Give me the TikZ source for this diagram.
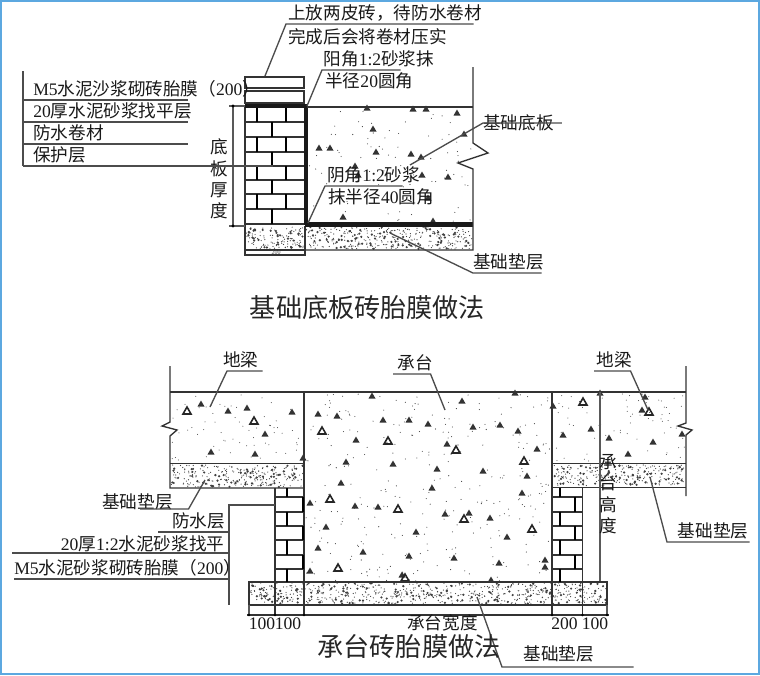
\documentclass[tikz,border=0pt]{standalone}
\usepackage{fontspec}
\setmainfont{Liberation Serif}
\newfontfamily\cjk{Noto Sans CJK SC}
\newcommand{\zh}[1]{{\cjk #1}}
\newcommand{\speck}[6]{%
  \foreach \i in {1,...,#5}{%
    \pgfmathsetmacro\px{#1+rnd*#3}%
    \pgfmathsetmacro\py{#2+rnd*#4}%
    \fill[black!75] (\px,\py) circle (#6);}}
\definecolor{framec}{RGB}{92,168,224}
\tikzset{
  wall/.style={line width=1,draw=black!80},
  fine/.style={line width=0.9,draw=black!65},
  heavy/.style={line width=3.2,draw=black!90},
  leader/.style={line width=1,draw=black!70},
  txt/.style={inner sep=0pt,text=black!90,font=\fontsize{13.2}{16}\selectfont},
  lbl/.style={txt,anchor=south west,text width=#1*0.75pt,text height=11pt,text depth=3pt,align=left},
  stack/.style={txt,align=center},
  headline/.style={inner sep=0pt,text=black!85,font=\fontsize{19.6}{22}\selectfont},
}
\begin{document}
\begin{tikzpicture}[x=0.75pt,y=0.75pt,yscale=-1,xscale=1]
  \useasboundingbox (0,0) rectangle (760,675);
  \fill[white] (0,0) rectangle (760,675);
  \draw[line width=1.5,draw=framec] (0.75,0.75) rectangle (759.25,674.25);
  \pgfmathsetseed{4217}

  % upper detail: aggregate
  \speck{309}{109}{163}{113}{85}{0.55}
  \speck{246}{227}{226}{22}{380}{0.6}
  \speck{246}{227}{226}{22}{110}{1.2}
  \foreach \x/\y in {373/129,319/148,330/148,376/152,411/154,421/157,413/109,426/109,457/113,
      464/134,448/177,355/166,358/175,422/175,343/217,433/221,367/108,428/198}{
    \fill[black!80] (\x,\y) ++(-3.5,2.5) -- ++(7,0) -- ++(-3.5,-6) -- cycle;
  }

  % upper detail: brick wall
  \draw[wall] (245,77) rectangle (304,88);
  \draw[wall] (245,91) rectangle (304,103);
  \draw[wall] (245,106) -- (245,255) -- (305,255) -- (305,226);
  \draw[wall] (245,250) -- (305,250);
  \foreach \y in {122,137,152,166,180,194,209,224}{
    \draw[wall] (245,\y) -- (305,\y);
  }
  \foreach \ya/\yb in {106/122,137/152,166/180,194/209}{
    \draw[line width=1.3] (257,\ya) -- (257,\yb) (286,\ya) -- (286,\yb);
  }
  \foreach \ya/\yb in {122/137,152/166,180/194,209/224}{
    \draw[line width=1.3] (272,\ya) -- (272,\yb);
  }
  \draw[heavy] (245,106) -- (307,106);
  \draw[heavy] (306,106) -- (306,225);
  \draw[heavy] (305,224.5) -- (473,224.5);
  \draw[wall] (307,107) -- (473,107);
  \draw[wall] (473,67) -- (473,143) -- (488,153) -- (458,163) -- (473,169) -- (473,250) -- (305,250);
  \node[inner sep=0pt,font=\fontsize{4.5}{5}\selectfont,text=black!70] (tinyw) at (276,253) {200};

  % upper detail: height dimension
  \draw[fine] (233,106) -- (233,226) (229,106) -- (245,106) (229,226) -- (245,226);
  \fill (233,106) circle (1.6) (233,226) circle (1.6);
  \node[stack,font=\fontsize{13.2}{16}\selectfont] (thick) at (219,179) {\zh{底}\\\zh{板}\\\zh{厚}\\\zh{度}};

  % upper detail: labels on the left
  \draw[leader] (23,71) -- (23,166);
  \node[lbl=164] (layerA) at (23,100) {\hspace*{7.5pt}M5\zh{水泥沙浆砌砖胎膜（}200\zh{）}};
  \node[lbl=164] (layerB) at (23,122) {\hspace*{7.5pt}20\zh{厚水泥砂浆找平层}};
  \node[lbl=164] (layerC) at (23,144) {\hspace*{7.5pt}\zh{防水卷材}};
  \node[lbl=249] (layerD) at (23,166) {\hspace*{7.5pt}\zh{保护层}};
  \foreach \n in {layerA,layerB,layerC,layerD}{
    \draw[leader] (\n.south west) -- (\n.south east);
  }

  % upper detail: labels on top and right
  \coordinate (ptPut) at (265,76);
  \node[lbl=187] (lblPut) at (286,24) {\hspace*{1.5pt}\zh{上放两皮砖，待防水卷材}};
  \node[txt,anchor=west] (lblPress) at (288,37) {\zh{完成后会将卷材压实}};
  \draw[leader] (lblPut.south east) -- (lblPut.south west) -- (ptPut);
  \coordinate (ptOuter) at (307,106);
  \node[lbl=78] (lblOuter) at (322,70) {\hspace*{1pt}\zh{阳角}1:2\zh{砂浆抹}};
  \node[txt,anchor=west] (lblOuterB) at (325,81) {\zh{半径}20\zh{圆角}};
  \draw[leader] (lblOuter.south east) -- (lblOuter.south west) -- (ptOuter);
  \coordinate (ptInner) at (308,223);
  \node[lbl=77] (lblInner) at (325,186) {\hspace*{1.5pt}\zh{阴角}1:2\zh{砂浆}};
  \node[txt,anchor=west] (lblInnerB) at (328,197) {\zh{抹半径}40\zh{圆角}};
  \draw[leader] (lblInner.south east) -- (lblInner.south west) -- (ptInner);
  \coordinate (ptSlab) at (410,165);
  \node[txt,anchor=west] (lblSlab) at (483,123) {\zh{基础底板}};
  \draw[leader] ([xshift=6]lblSlab.east) -- (lblSlab.west) -- (ptSlab);
  \coordinate (ptBaseA) at (390,233);
  \node[lbl=68] (lblBaseA) at (473,273) {\zh{基础垫层}};
  \draw[leader] (lblBaseA.south east) -- (lblBaseA.south west) -- (ptBaseA);
  \node[headline] (titleA) at (367.5,308) {\zh{基础底板砖胎膜做法}};

  % lower detail: aggregate
  \speck{171}{394}{132}{68}{65}{0.5}
  \speck{306}{394}{245}{187}{300}{0.55}
  \speck{554}{394}{131}{68}{70}{0.5}
  \speck{171}{465}{132}{22}{210}{0.6}
  \speck{171}{465}{132}{22}{60}{1.2}
  \speck{554}{465}{131}{21}{210}{0.6}
  \speck{554}{465}{131}{21}{60}{1.2}
  \speck{250}{583}{356}{21}{550}{0.6}
  \speck{250}{583}{356}{21}{150}{1.2}
  \foreach \x/\y in {201/404,228/411,247/408,292/412,265/434,211/452,255/454,303/458,
      372/396,318/414,337/416,356/440,383/420,409/420,428/424,462/401,473/427,447/444,
      346/462,393/464,437/469,483/471,341/483,432/488,310/503,355/506,378/507,445/514,
      469/513,490/518,326/527,416/532,318/548,363/552,409/556,454/558,310/571,402/575,
      491/580,500/425,518/431,537/449,527/476,522/493,507/537,499/563,545/560,545/567,
      515/393,553/406,563/435,591/429,609/438,628/454,645/397,642/410,653/442,682/434,600/393}{
    \fill[black!80] (\x,\y) ++(-3.5,2.5) -- ++(7,0) -- ++(-3.5,-6) -- cycle;
  }
  \foreach \x/\y in {187/411,254/421,322/431,388/441,456/450,330/499,398/509,464/519,338/568,
      405/578,524/461,532/529,583/402,649/412}{
    \draw[line width=1.2,draw=black!85] (\x,\y) ++(-4,3) -- ++(8,0) -- ++(-4,-7) -- cycle;
  }

  % lower detail: outlines
  \draw[wall] (170,366) -- (170,422) -- (162,426) -- (177,430) -- (170,436) -- (170,488) -- (304,488);
  \draw[wall] (686,366) -- (686,423) -- (678,426) -- (692,430) -- (686,435) -- (686,496);
  \draw[wall] (170,392) -- (686,392);
  \draw[wall] (170,463.5) -- (304,463.5) (552,463.5) -- (686,463.5);
  \draw[wall] (552,487.5) -- (686,487.5);
  \draw[wall] (304,392) -- (304,615) (552,392) -- (552,615);
  \draw[fine] (600,392) -- (600,582);
  \draw[wall] (275,488) -- (275,615) (582.5,488) -- (582.5,615);
  \draw[wall] (249,582) rectangle (607,605);
  \draw[fine] (249,605) -- (249,615) (607,605) -- (607,615);
  \draw[wall] (247,615) -- (609,615);
  \foreach \x in {249,275,304,552,582.5,607}{
    \fill (\x,615) circle (1.3);
  }

  % lower detail: bricks in both walls
  \foreach \y in {497,512,526,540,555,569}{
    \draw[wall] (275,\y) -- (304,\y) (552,\y) -- (582.5,\y);
  }
  \foreach \ya/\yb in {488/497,512/526,540/555,569/582}{
    \draw[line width=1.2] (287,\ya) -- (287,\yb) (560,\ya) -- (560,\yb);
  }
  \foreach \ya/\yb in {497/512,526/540,555/569}{
    \draw[line width=1.5] (303,\ya) -- (303,\yb);
    \draw[line width=1.2] (575,\ya) -- (575,\yb);
  }

  % lower detail: labels
  \coordinate (ptBeamL) at (210,407);
  \node[lbl=35] (lblBeamL) at (227,371) {\hspace*{-3pt}\zh{地梁}};
  \draw[leader] (lblBeamL.south east) -- (lblBeamL.south west) -- (ptBeamL);
  \coordinate (ptCap) at (445,410);
  \node[lbl=37] (lblCap) at (393,374) {\hspace*{3.5pt}\zh{承台}};
  \draw[leader] (lblCap.south west) -- (lblCap.south east) -- (ptCap);
  \coordinate (ptBeamR) at (648,410);
  \node[lbl=36] (lblBeamR) at (594,371) {\hspace*{2pt}\zh{地梁}};
  \draw[leader] (lblBeamR.south west) -- (lblBeamR.south east) -- (ptBeamR);
  \coordinate (ptBaseB) at (205,480);
  \node[lbl=48] (lblBaseB) at (140,509) {\hspace*{-28.5pt}\raisebox{-2.5pt}{\zh{基础垫层}}};
  \draw[leader] (lblBaseB.south west) -- (lblBaseB.south east) -- (ptBaseB);
  \coordinate (ptBaseC) at (650,477);
  \node[lbl=82] (lblBaseC) at (667,542) {\hspace*{8pt}\zh{基础垫层}};
  \draw[leader] (lblBaseC.south east) -- (lblBaseC.south west) -- (ptBaseC);
  \coordinate (ptBaseD) at (477,597);
  \node[lbl=131] (lblBaseD) at (502,667) {\hspace*{16pt}\raisebox{1.5pt}{\zh{基础垫层}}};
  \draw[leader] (lblBaseD.south east) -- (lblBaseD.south west) -- (ptBaseD);

  \coordinate (wallTop) at (275,505);
  \coordinate (wallLow) at (229,605);
  \draw[leader] (wallTop) -- (229,505) -- (wallLow);
  \node[lbl=71] (lblProof) at (158,532) {\hspace*{10.5pt}\zh{防水层}};
  \node[lbl=217] (lblScreed) at (12,553) {\hspace*{36.5pt}\raisebox{-1.5pt}{20\zh{厚}1:2\zh{水泥砂浆找平}}};
  \node[lbl=215] (lblMortar) at (14,579) {M5\zh{水泥砂浆砌砖胎膜（}200\zh{）}};
  \foreach \n in {lblProof,lblScreed,lblMortar}{
    \draw[leader] (\n.south west) -- (\n.south east);
  }

  \node[stack,font=\fontsize{13.2}{16}\selectfont] (capH) at (608,494) {\zh{承}\\\zh{台}\\\zh{高}\\\zh{度}};
  \node[txt] (dimA) at (262,623.5) {100};
  \node[txt] (dimB) at (288,623.5) {100};
  \node[txt] (dimC) at (564.5,623.5) {200};
  \node[txt] (dimD) at (595,623.5) {100};
  \node[txt] (capW) at (442.5,623) {\zh{承台宽度}};
  \node[headline] (titleB) at (409,647) {\zh{承台砖胎膜做法}};
\end{tikzpicture}
\end{document}
